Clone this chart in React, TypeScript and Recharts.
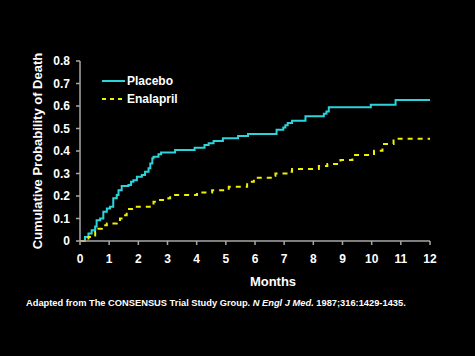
import React from "react";
import { LineChart, Line, XAxis, YAxis } from "recharts";

const monthTicks = [0, 1, 2, 3, 4, 5, 6, 7, 8, 9, 10, 11, 12];
const probTicks = [0, 0.1, 0.2, 0.3, 0.4, 0.5, 0.6, 0.7, 0.8];

const placeboMonths = [0, 0.06, 0.17, 0.29, 0.4, 0.52, 0.57, 0.69, 0.8, 0.92, 1.03, 1.14, 1.26, 1.32, 1.43, 1.66, 1.75, 1.83, 1.95, 2.12, 2.23, 2.35, 2.41, 2.48, 2.52, 2.69, 2.78, 3.26, 3.93, 4.27, 4.41, 4.58, 4.9, 5.42, 5.76, 6.74, 6.97, 7.04, 7.12, 7.27, 7.73, 8.36, 8.45, 8.53, 9.97, 10.82, 12];
const placeboValues = [0, 0, 0.018, 0.033, 0.048, 0.064, 0.092, 0.1, 0.13, 0.145, 0.152, 0.19, 0.204, 0.226, 0.244, 0.249, 0.263, 0.27, 0.286, 0.293, 0.308, 0.323, 0.345, 0.368, 0.375, 0.386, 0.393, 0.405, 0.415, 0.427, 0.435, 0.445, 0.457, 0.467, 0.476, 0.494, 0.505, 0.514, 0.524, 0.534, 0.554, 0.566, 0.576, 0.595, 0.606, 0.627, 0.627];

const enalaprilMonths = [0, 0.1, 0.29, 0.46, 0.52, 0.63, 0.75, 0.92, 1.26, 1.37, 1.49, 1.6, 1.89, 2.52, 2.64, 3.03, 3.09, 4.01, 4.53, 5.1, 5.73, 5.96, 6.64, 6.7, 7.21, 7.27, 8.19, 8.48, 8.93, 9.34, 10.08, 10.37, 10.75, 12];
const enalaprilValues = [0, 0, 0.018, 0.025, 0.04, 0.055, 0.07, 0.078, 0.085, 0.1, 0.115, 0.142, 0.152, 0.174, 0.182, 0.19, 0.204, 0.216, 0.226, 0.241, 0.263, 0.281, 0.29, 0.3, 0.308, 0.32, 0.333, 0.342, 0.36, 0.382, 0.401, 0.431, 0.455, 0.455];

const placeboData = placeboMonths.map((m, i) => ({ month: m, value: placeboValues[i] }));
const enalaprilData = enalaprilMonths.map((m, i) => ({ month: m, value: enalaprilValues[i] }));

const CYAN = "#2cd3db";
const YELLOW = "#f0f000";
const AXIS = "#a8a8a8";
const FONT = "'Liberation Sans', Arial, sans-serif";

const tickStyle = { fill: "#ffffff", fontSize: 12, fontWeight: 700, fontFamily: FONT };

function LegendBox() {
  return (
    <svg width={90} height={34} style={{ display: "block" }}>
      <line x1={1} y1={8} x2={24} y2={8} stroke={CYAN} strokeWidth={2} />
      <text x={26} y={8} dominantBaseline="central" fill="#fff" fontSize={12} fontWeight={700} fontFamily={FONT}>Placebo</text>
      <line x1={1} y1={26} x2={24} y2={26} stroke={YELLOW} strokeWidth={2} strokeDasharray="4 4" />
      <text x={26} y={26} dominantBaseline="central" fill="#fff" fontSize={12} fontWeight={700} fontFamily={FONT}>Enalapril</text>
    </svg>
  );
}

function YLabel() {
  return (
    <text x={37} y={151} transform="rotate(-90 37 151)" textAnchor="middle" dominantBaseline="central" fill="#fff" fontSize={13} fontWeight={700} fontFamily={FONT}>
      Cumulative Probability of Death
    </text>
  );
}

function XLabel() {
  return (
    <text x={273} y={281} textAnchor="middle" dominantBaseline="central" fill="#fff" fontSize={13} fontWeight={700} fontFamily={FONT}>
      Months
    </text>
  );
}

export default function App() {
  return (
    <div style={{ position: "absolute", left: 0, top: 0, width: 475, height: 356, background: "#000", overflow: "hidden" }}>
      <LineChart width={475} height={356} margin={{ top: 61, right: 45, left: 0, bottom: 0 }}>
        <XAxis
          dataKey="month"
          type="number"
          domain={[0, 12]}
          ticks={monthTicks}
          interval={0}
          allowDuplicatedCategory={false}
          height={115}
          stroke={AXIS}
          strokeWidth={1.5}
          tickSize={4}
          tickMargin={9}
          tick={tickStyle}
          tickLine={{ stroke: AXIS }}
          label={<XLabel />}
        />
        <YAxis
          type="number"
          domain={[0, 0.8]}
          ticks={probTicks}
          interval={0}
          width={80}
          stroke={AXIS}
          strokeWidth={1.5}
          tickSize={4}
          tickMargin={6}
          tick={tickStyle}
          tickLine={{ stroke: AXIS }}
          tickFormatter={(v: number) => (v === 0 ? "0" : String(v))}
          label={<YLabel />}
        />
        <Line
          data={placeboData}
          dataKey="value"
          type="stepAfter"
          stroke={CYAN}
          strokeWidth={2}
          dot={false}
          isAnimationActive={false}
          name="Placebo"
        />
        <Line
          data={enalaprilData}
          dataKey="value"
          type="stepAfter"
          stroke={YELLOW}
          strokeWidth={2}
          strokeDasharray="5 5"
          dot={false}
          isAnimationActive={false}
          name="Enalapril"
        />
      </LineChart>
      <div style={{ position: "absolute", left: 101, top: 73 }}>
        <LegendBox />
      </div>
      <div style={{ position: "absolute", left: 26, top: 298, whiteSpace: "nowrap", color: "#fff", fontFamily: FONT, fontWeight: 700, fontSize: 9.3 }}>
        Adapted from The CONSENSUS Trial Study Group. <i>N Engl J Med.</i> 1987;316:1429-1435.
      </div>
    </div>
  );
}
